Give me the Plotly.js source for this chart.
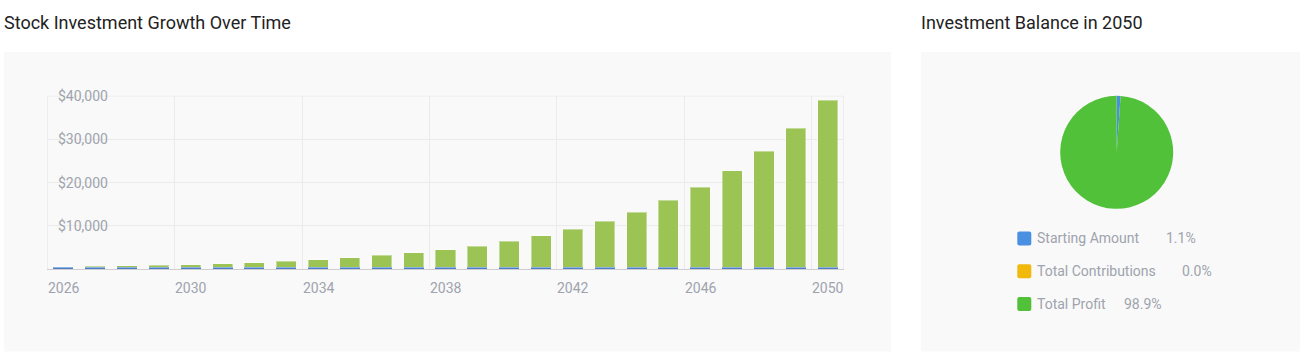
<!DOCTYPE html>
<html>
<head>
<meta charset="utf-8">
<script src="https://cdn.plot.ly/plotly-3.0.1.min.js"></script>
<style>
  html, body { margin: 0; padding: 0; background: #ffffff; }
  #chart { width: 1300px; height: 357px; }
</style>
</head>
<body>
<div id="chart"></div>
<script>
// ---- Data ----
const years = [2026, 2027, 2028, 2029, 2030, 2031, 2032, 2033, 2034, 2035, 2036, 2037,
               2038, 2039, 2040, 2041, 2042, 2043, 2044, 2045, 2046, 2047, 2048, 2049, 2050];
const startingAmount = [430, 430, 430, 430, 430, 430, 430, 430, 430, 430, 430, 430,
                        430, 430, 430, 430, 430, 430, 430, 430, 430, 430, 430, 430, 430];
const totalContributions = [0, 0, 0, 0, 0, 0, 0, 0, 0, 0, 0, 0,
                            0, 0, 0, 0, 0, 0, 0, 0, 0, 0, 0, 0, 0];
const totalProfit = [90, 190, 280, 420, 580, 800, 1070, 1350, 1730, 2190, 2730, 3350,
                     4030, 4890, 6040, 7270, 8820, 10670, 12750, 15450, 18530, 22300, 26780, 32100, 38570];
const xTickYears = [2026, 2030, 2034, 2038, 2042, 2046, 2050];
const xTickLabels = ['2026', '2030', '2034', '2038', '2042', '2046', '2050'];
const yTickValues = [10000, 20000, 30000, 40000];
const yTickLabels = ['$10,000', '$20,000', '$30,000', '$40,000'];
const pieLabels = ['Starting Amount', 'Total Contributions', 'Total Profit'];
const chartTitle = 'Stock Investment Growth Over Time';
const pieTitle = 'Investment Balance in 2050';

// ---- Styles ----
const W = 1300, H = 357;
const px = x => x / W;
const py = y => 1 - y / H;
const FONT = 'Roboto, "Open Sans", sans-serif';
const GRAY = '#9ea3ad';
const GRID = '#ebebeb';
const barGreen = '#9cc454';
const barBlue = '#4a7fc7';
const pieColors = ['#4a90e2', '#f0b90b', '#50c138'];

const last = years.length - 1;
const pieValues = [startingAmount[last], totalContributions[last], totalProfit[last]];
const pieTotal = pieValues.reduce((a, b) => a + b, 0);
const piePct = pieValues.map(v => (v / pieTotal * 100).toFixed(1) + '%');

const traces = [
  {
    type: 'bar', x: years, y: startingAmount, name: pieLabels[0],
    marker: { color: barBlue, line: { width: 0 } },
    hoverinfo: 'skip', showlegend: false
  },
  {
    type: 'bar', x: years, y: totalContributions, name: pieLabels[1],
    marker: { color: pieColors[1], line: { width: 0 } },
    hoverinfo: 'skip', showlegend: false
  },
  {
    type: 'bar', x: years, y: totalProfit, name: pieLabels[2],
    marker: { color: barGreen, line: { width: 1, color: 'rgba(255,255,255,0.4)' } },
    hoverinfo: 'skip', showlegend: false
  },
  {
    type: 'pie', labels: pieLabels, values: pieValues,
    marker: { colors: pieColors, line: { width: 0 } },
    sort: false, direction: 'clockwise', rotation: 0,
    textinfo: 'none', hoverinfo: 'skip', showlegend: false,
    domain: { x: [px(1116.7 - 56.5), px(1116.7 + 56.5)], y: [py(152.3 + 56.5), py(152.3 - 56.5)] }
  }
];

const EPS = 0.012;
const xGridVals = xTickYears.map(y => y - 0.5).concat([years[last] + 0.5]);
const yTop = yTickValues[yTickValues.length - 1];

const shapes = [
  { type: 'rect', xref: 'paper', yref: 'paper', layer: 'below',
    x0: px(4), x1: px(891), y0: py(351.5), y1: py(52), fillcolor: '#f9f9f9', line: { width: 0 } },
  { type: 'rect', xref: 'paper', yref: 'paper', layer: 'below',
    x0: px(921), x1: px(1300), y0: py(351.5), y1: py(52), fillcolor: '#f9f9f9', line: { width: 0 } },
  // grid lines on the plot-area edges
  { type: 'line', xref: 'x', yref: 'y', layer: 'below',
    x0: years[0] - 0.5, x1: years[0] - 0.5, y0: 0, y1: yTop, line: { color: GRID, width: 1 } },
  { type: 'line', xref: 'x', yref: 'y', layer: 'below',
    x0: years[last] + 0.5, x1: years[last] + 0.5, y0: 0, y1: yTop, line: { color: GRID, width: 1 } },
  { type: 'line', xref: 'x', yref: 'y', layer: 'below',
    x0: years[0] - 0.5, x1: years[last] + 0.5, y0: yTop, y1: yTop, line: { color: GRID, width: 1 } }
];

const legendRowsY = [238.5, 271.3, 304];
const legendValueX = [1165.5, 1181.5, 1123.5];
const roundSq = 'M-5,-7 H5 Q7,-7 7,-5 V5 Q7,7 5,7 H-5 Q-7,7 -7,5 V-5 Q-7,-7 -5,-7 Z';
const annotations = [
  { xref: 'paper', yref: 'paper', x: px(1.8), y: py(22), xanchor: 'left', yanchor: 'middle',
    text: chartTitle, showarrow: false, font: { family: FONT, size: 18, color: '#222222' } },
  { xref: 'paper', yref: 'paper', x: px(919), y: py(22), xanchor: 'left', yanchor: 'middle',
    text: pieTitle, showarrow: false, font: { family: FONT, size: 18, color: '#222222' } }
];
pieLabels.forEach((lab, i) => {
  shapes.push({ type: 'path', xref: 'paper', yref: 'paper', xsizemode: 'pixel', ysizemode: 'pixel',
    xanchor: px(1024.3), yanchor: py(legendRowsY[i]), path: roundSq,
    fillcolor: pieColors[i], line: { width: 0 } });
  annotations.push({ xref: 'paper', yref: 'paper', x: px(1034.5), y: py(legendRowsY[i]),
    xanchor: 'left', yanchor: 'middle', text: lab, showarrow: false,
    font: { family: FONT, size: 14, color: GRAY } });
  annotations.push({ xref: 'paper', yref: 'paper', x: px(legendValueX[i] - 2), y: py(legendRowsY[i]),
    xanchor: 'left', yanchor: 'middle', text: piePct[i], showarrow: false,
    font: { family: FONT, size: 14, color: GRAY } });
});
// x tick labels, left-aligned at their grid line
xTickYears.forEach((yr, i) => {
  annotations.push({ xref: 'x', yref: 'paper', x: yr - 0.5, y: py(287.5),
    xanchor: 'left', yanchor: 'middle', xshift: -1.5, text: xTickLabels[i], showarrow: false,
    font: { family: FONT, size: 14, color: GRAY } });
});
// y tick labels, inside the plot
yTickValues.forEach((v, i) => {
  annotations.push({ xref: 'paper', yref: 'y', x: px(55.5), y: v,
    xanchor: 'left', yanchor: 'middle', text: yTickLabels[i], showarrow: false,
    font: { family: FONT, size: 14, color: GRAY } });
});

const layout = {
  width: W, height: H,
  margin: { l: 0, r: 0, t: 0, b: 0, pad: 0 },
  paper_bgcolor: '#ffffff', plot_bgcolor: 'rgba(0,0,0,0)',
  barmode: 'stack', bargap: 0.37,
  font: { family: FONT, size: 14, color: GRAY },
  xaxis: {
    domain: [px(47), px(844)],
    range: [years[0] - 0.5 - EPS, years[last] + 0.5 + EPS],
    tickmode: 'array', tickvals: xGridVals,
    showticklabels: false,
    ticks: '', showgrid: true, gridcolor: GRID, gridwidth: 1,
    showline: true, linecolor: '#cfcfd3', linewidth: 1,
    zeroline: false, fixedrange: true
  },
  yaxis: {
    domain: [py(269), py(95.6)],
    range: [0, 40100],
    tickmode: 'array', tickvals: [0].concat(yTickValues),
    showticklabels: false,
    ticks: '', showgrid: true, gridcolor: GRID, gridwidth: 1,
    showline: false, zeroline: false, fixedrange: true
  },
  shapes: shapes,
  annotations: annotations
};

Plotly.newPlot('chart', traces, layout, { displayModeBar: false, staticPlot: true });
</script>
</body>
</html>
